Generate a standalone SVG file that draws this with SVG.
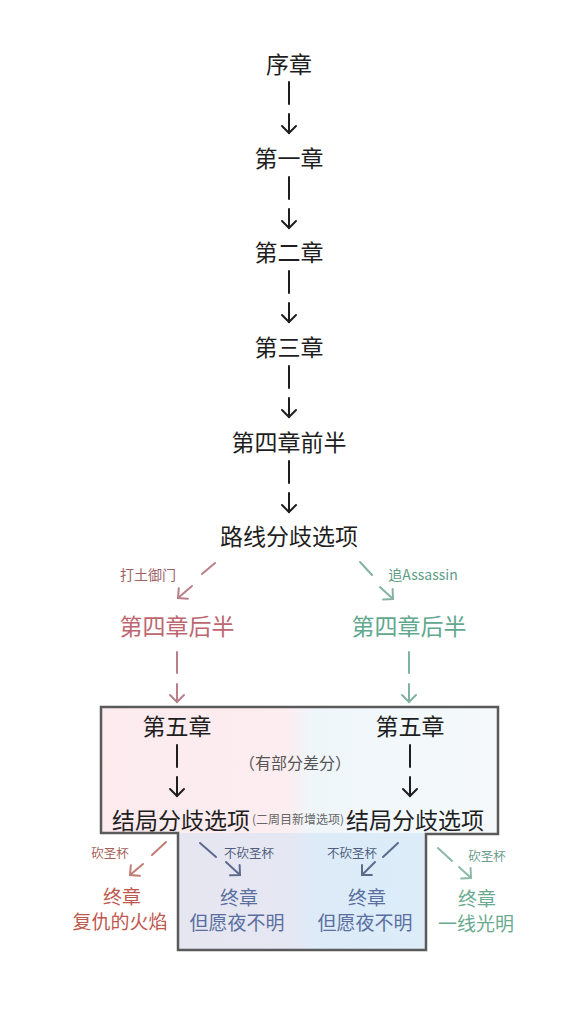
<svg xmlns="http://www.w3.org/2000/svg" width="580" height="1031" viewBox="0 0 580 1031">
<style>
text{font-family:"Noto Sans CJK SC","Noto Sans",sans-serif;text-anchor:middle;dominant-baseline:central}
.main{font-size:23px;fill:#1e1e1e}
.big{font-size:23px}
.end{font-size:19px}
.lab{font-size:14px}
.sl{font-size:12.5px}
.c{fill:none;stroke-width:2;stroke-linecap:round}
</style>
<defs>
<linearGradient id="gTop" gradientUnits="userSpaceOnUse" x1="101" y1="0" x2="498" y2="0">
<stop offset="0" stop-color="#fdebee"/><stop offset="0.47" stop-color="#fcedf0"/><stop offset="0.53" stop-color="#eff6fa"/><stop offset="1" stop-color="#f5f9fb"/>
</linearGradient>
<linearGradient id="gBot" gradientUnits="userSpaceOnUse" x1="178" y1="0" x2="426" y2="0">
<stop offset="0" stop-color="#e6e6f1"/><stop offset="0.45" stop-color="#e5e7f2"/><stop offset="0.55" stop-color="#ddebf8"/><stop offset="1" stop-color="#dcecf9"/>
</linearGradient>
<marker id="mK" viewBox="-9 -9 18 18" markerWidth="18" markerHeight="18" markerUnits="userSpaceOnUse" refX="0" refY="0" orient="auto"><path d="M-7,-7 L0,0 L-7,7" fill="none" stroke="#1e1e1e" stroke-width="2" stroke-linecap="round"/></marker>
<marker id="mR" viewBox="-9 -9 18 18" markerWidth="18" markerHeight="18" markerUnits="userSpaceOnUse" refX="0" refY="0" orient="auto"><path d="M-7,-7 L0,0 L-7,7" fill="none" stroke="#b9808a" stroke-width="2" stroke-linecap="round"/></marker>
<marker id="mG" viewBox="-9 -9 18 18" markerWidth="18" markerHeight="18" markerUnits="userSpaceOnUse" refX="0" refY="0" orient="auto"><path d="M-7,-7 L0,0 L-7,7" fill="none" stroke="#82b3a2" stroke-width="2" stroke-linecap="round"/></marker>
<marker id="mR2" viewBox="-9 -9 18 18" markerWidth="18" markerHeight="18" markerUnits="userSpaceOnUse" refX="0" refY="0" orient="auto"><path d="M-7,-7 L0,0 L-7,7" fill="none" stroke="#c27c73" stroke-width="2" stroke-linecap="round"/></marker>
<marker id="mS" viewBox="-9 -9 18 18" markerWidth="18" markerHeight="18" markerUnits="userSpaceOnUse" refX="0" refY="0" orient="auto"><path d="M-7,-7 L0,0 L-7,7" fill="none" stroke="#5b6a8c" stroke-width="2" stroke-linecap="round"/></marker>
<marker id="mG2" viewBox="-9 -9 18 18" markerWidth="18" markerHeight="18" markerUnits="userSpaceOnUse" refX="0" refY="0" orient="auto"><path d="M-7,-7 L0,0 L-7,7" fill="none" stroke="#8cbaa9" stroke-width="2" stroke-linecap="round"/></marker>
</defs>
<rect width="580" height="1031" fill="#ffffff"/>

<g id="box">
<rect x="101" y="707" width="397" height="127" fill="url(#gTop)"/>
<rect x="178" y="833" width="248" height="117" fill="url(#gBot)"/>
<path d="M101,707 H498 V834 H426 V950 H178 V833 H101 Z" fill="none" stroke="#5a5a5a" stroke-width="2.5"/>
</g>

<g id="connectors">
<g stroke="#1e1e1e" class="c">
<line x1="289" y1="82" x2="289" y2="104"/><line x1="289" y1="114" x2="289" y2="133" marker-end="url(#mK)"/>
<line x1="289" y1="177" x2="289" y2="199"/><line x1="289" y1="209" x2="289" y2="228" marker-end="url(#mK)"/>
<line x1="289" y1="271" x2="289" y2="293"/><line x1="289" y1="303" x2="289" y2="322" marker-end="url(#mK)"/>
<line x1="289" y1="366" x2="289" y2="388"/><line x1="289" y1="398" x2="289" y2="417" marker-end="url(#mK)"/>
<line x1="289" y1="461" x2="289" y2="483"/><line x1="289" y1="493" x2="289" y2="512" marker-end="url(#mK)"/>
<line x1="177" y1="745" x2="177" y2="767"/><line x1="177" y1="777" x2="177" y2="796" marker-end="url(#mK)"/>
<line x1="410" y1="745" x2="410" y2="767"/><line x1="410" y1="777" x2="410" y2="796" marker-end="url(#mK)"/>
</g>
<g stroke="#b9808a" class="c">
<line x1="215" y1="563" x2="202" y2="574"/><line x1="192" y1="586" x2="178" y2="598" marker-end="url(#mR)"/>
<line x1="177" y1="652" x2="177" y2="673"/><line x1="177" y1="684" x2="177" y2="702" marker-end="url(#mR)"/>
</g>
<g stroke="#82b3a2" class="c">
<line x1="360" y1="562" x2="372" y2="575"/><line x1="380" y1="587" x2="393" y2="599" marker-end="url(#mG)"/>
<line x1="409" y1="652" x2="409" y2="673"/><line x1="409" y1="684" x2="409" y2="702" marker-end="url(#mG)"/>
</g>
<g stroke="#c27c73" class="c">
<line x1="166" y1="842" x2="152" y2="855"/><line x1="143" y1="864" x2="130" y2="875" marker-end="url(#mR2)"/>
</g>
<g stroke="#5b6a8c" class="c">
<line x1="200" y1="843" x2="216" y2="857"/><line x1="226" y1="862" x2="240" y2="875" marker-end="url(#mS)"/>
<line x1="398" y1="843" x2="383" y2="857"/><line x1="375" y1="862" x2="362" y2="875" marker-end="url(#mS)"/>
</g>
<g stroke="#8cbaa9" class="c">
<line x1="438" y1="848" x2="452" y2="861"/><line x1="459" y1="867" x2="471" y2="878" marker-end="url(#mG2)"/>
</g>
</g>

<g id="n-prologue"><text class="main" x="289" y="63">序章</text></g>
<g id="n-ch1"><text class="main" x="289" y="157">第一章</text></g>
<g id="n-ch2"><text class="main" x="289" y="251">第二章</text></g>
<g id="n-ch3"><text class="main" x="289" y="346">第三章</text></g>
<g id="n-ch4a"><text class="main" x="289" y="441">第四章前半</text></g>
<g id="n-route"><text class="main" x="289" y="535">路线分歧选项</text></g>

<g id="l-tsuchimikado"><text class="lab" x="148" y="574" fill="#9e5f66">打土御门</text></g>
<g id="l-assassin"><text class="lab" x="423" y="574" fill="#5f9c86">追Assassin</text></g>

<g id="n-ch4b-left"><text class="big" x="177" y="625" fill="#bd6670">第四章后半</text></g>
<g id="n-ch4b-right"><text class="big" x="409" y="625" fill="#62a88e">第四章后半</text></g>

<g id="n-ch5-left"><text class="main" x="177" y="725">第五章</text></g>
<g id="n-ch5-right"><text class="main" x="410" y="725">第五章</text></g>
<g id="l-diff"><text x="295" y="762" font-size="16" fill="#555555">（有部分差分）</text></g>
<g id="n-end-left"><text class="main" x="181" y="819">结局分歧选项</text></g>
<g id="n-end-right"><text class="main" x="415" y="819">结局分歧选项</text></g>
<g id="l-new"><text x="298" y="818" font-size="12" fill="#666666">(二周目新增选项)</text></g>

<g id="l-cut1"><text class="sl" x="110" y="852" fill="#a85f5c">砍圣杯</text></g>
<g id="l-nocut1"><text class="sl" x="249" y="852" fill="#4f5e80">不砍圣杯</text></g>
<g id="l-nocut2"><text class="sl" x="352" y="852" fill="#4f5e80">不砍圣杯</text></g>
<g id="l-cut2"><text class="sl" x="487" y="855" fill="#6a9c8c">砍圣杯</text></g>

<g id="n-fin-revenge"><text class="end" fill="#c0584e"><tspan x="122" y="895">终章</tspan><tspan x="120" y="920">复仇的火焰</tspan></text></g>
<g id="n-fin-night1"><text class="end" fill="#5a6f9f"><tspan x="239" y="896">终章</tspan><tspan x="237" y="921">但愿夜不明</tspan></text></g>
<g id="n-fin-night2"><text class="end" fill="#5a6f9f"><tspan x="367" y="896">终章</tspan><tspan x="365" y="921">但愿夜不明</tspan></text></g>
<g id="n-fin-light"><text class="end" fill="#6aab90"><tspan x="477" y="897">终章</tspan><tspan x="476" y="922">一线光明</tspan></text></g>
</svg>
